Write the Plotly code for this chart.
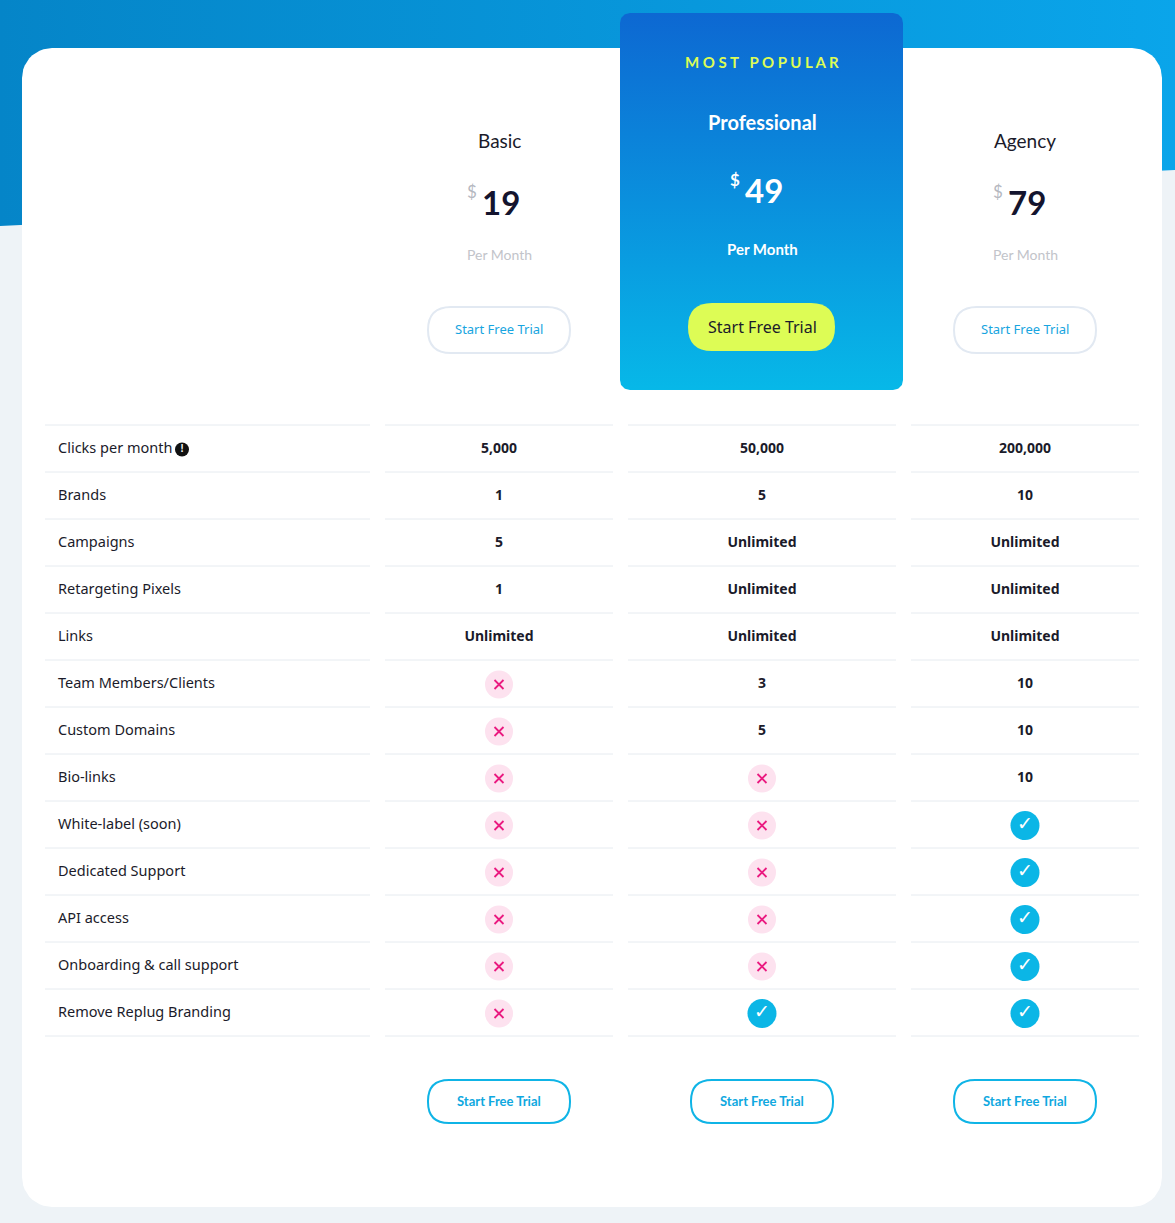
import numpy as np
import plotly.graph_objects as go

plans = ["Basic", "Professional", "Agency"]
prices = ["19", "49", "79"]
features = ["Clicks per month", "Brands", "Campaigns", "Retargeting Pixels", "Links",
            "Team Members/Clients", "Custom Domains", "Bio-links", "White-label (soon)",
            "Dedicated Support", "API access", "Onboarding & call support", "Remove Replug Branding"]
# "no" = cross, "yes" = check
basic = ["5,000", "1", "5", "1", "Unlimited", "no", "no", "no", "no", "no", "no", "no", "no"]
professional = ["50,000", "5", "Unlimited", "Unlimited", "Unlimited", "3", "5", "no", "no", "no", "no", "no", "yes"]
agency = ["200,000", "10", "Unlimited", "Unlimited", "Unlimited", "10", "10", "10", "yes", "yes", "yes", "yes", "yes"]
plan_values = [basic, professional, agency]

W, H = 1175, 1223
FONT = "Lato"
FONT2 = "Noto Sans"
fig = go.Figure()
shapes = []
ann = []

def rrect_pts(x0, y0, x1, y1, r, n=12):
    xs, ys = [], []
    for cx, cy, a0 in [(x1 - r, y0 + r, -90), (x1 - r, y1 - r, 0), (x0 + r, y1 - r, 90), (x0 + r, y0 + r, 180)]:
        for a in np.linspace(a0, a0 + 90, n):
            xs.append(cx + r * np.cos(np.radians(a)))
            ys.append(cy + r * np.sin(np.radians(a)))
    xs.append(xs[0]); ys.append(ys[0])
    return xs, ys

def rpath(x0, y0, x1, y1, r):
    return (f"M{x0+r},{y0} L{x1-r},{y0} Q{x1},{y0} {x1},{y0+r} L{x1},{y1-r} Q{x1},{y1} {x1-r},{y1} "
            f"L{x0+r},{y1} Q{x0},{y1} {x0},{y1-r} L{x0},{y0+r} Q{x0},{y0} {x0+r},{y0} Z")

def deco(**kw):
    fig.add_trace(go.Scatter(mode="lines", line_width=0, fill="toself", hoverinfo="skip", showlegend=False, **kw))

# background
shapes.append(dict(type="rect", x0=0, y0=0, x1=W, y1=H, fillcolor="#eef3f7", line_width=0, layer="below"))
deco(x=[0, W, W, 0, 0], y=[0, 0, 170, 226, 0],
     fillgradient=dict(type="horizontal", colorscale=[[0, "#0585c8"], [1, "#0aa5ea"]]))
wx, wy = rrect_pts(22, 48, 1162, 1207, 30)
deco(x=wx, y=wy, fillcolor="white")

# pro card
px, py = rrect_pts(620, 13, 903, 390, 10)
deco(x=px, y=py, fillgradient=dict(type="vertical", colorscale=[[0, "#07b8e8"], [1, "#0d68d2"]]))

cols = [499, 762, 1025]
segs = [(45, 370), (385, 613), (628, 896), (911, 1139)]
top = 425
rh = 47
for i in range(len(features) + 1):
    y = top + i * rh
    for a, b in segs:
        shapes.append(dict(type="line", x0=a, x1=b, y0=y, y1=y, line=dict(color="#e6ebf0", width=1), layer="above"))

# headers
for k, (p, pr, cx) in enumerate(zip(plans, prices, cols)):
    pro = k == 1
    ty = 122 if pro else 140
    ann.append(dict(x=cx, y=ty, text=f"<b>{p}</b>" if pro else p,
                    font=dict(size=20 if pro else 19, color="white" if pro else "#1b1b2a", family=FONT)))
    py_ = 190 if pro else 202
    ann.append(dict(x=cx + 2, y=py_, text=f"<b>{pr}</b>",
                    font=dict(size=33, color="white" if pro else "#14142e", family=FONT)))
    ann.append(dict(x=cx - 27, y=py_ - 11, text="<b>$</b>" if pro else "$",
                    font=dict(size=17, color="white" if pro else "#b5b8bf", family=FONT)))
    ann.append(dict(x=cx, y=249 if pro else 254, text="<b>Per Month</b>" if pro else "Per Month",
                    font=dict(size=15 if pro else 14, color="white" if pro else "#c2c4ca", family=FONT)))
    if pro:
        shapes.append(dict(type="path", path=rpath(688, 303, 835, 351, 24), fillcolor="#ddfc55", line_width=0, layer="above"))
        ann.append(dict(x=cx, y=327, text="Start Free Trial", font=dict(size=16, color="#1b1b2a", family=FONT2)))
    else:
        shapes.append(dict(type="path", path=rpath(cx - 71, 307, cx + 71, 353, 23), fillcolor="white",
                           line=dict(color="#e2e9f2", width=2), layer="above"))
        ann.append(dict(x=cx, y=329, text="Start Free Trial", font=dict(size=13, color="#18a5e0", family=FONT2)))
    shapes.append(dict(type="path", path=rpath(cx - 71, 1080, cx + 71, 1123, 21), fillcolor="white",
                       line=dict(color="#0fb4e6", width=2), layer="above"))
    ann.append(dict(x=cx, y=1101, text="<b>Start Free Trial</b>", font=dict(size=13, color="#0fa8e0", family=FONT)))

ann.append(dict(x=762, y=62, text="<b>M O S T   P O P U L A R</b>", font=dict(size=15, color="#ddfc55", family=FONT)))

# feature labels
ys = [top + rh / 2 + i * rh for i in range(len(features))]
fig.add_trace(go.Scatter(x=[58] * len(features), y=[y + 1 for y in ys], mode="text", text=features,
                         textposition="middle right",
                         textfont=dict(size=14.5, color="#1b1b2a", family=FONT2), hoverinfo="skip", showlegend=False))
fig.add_trace(go.Scatter(x=[182], y=[ys[0] + 1], mode="markers+text", marker=dict(size=14, color="#111"),
                         text=["<b>!</b>"], textfont=dict(size=11, color="white", family=FONT),
                         hoverinfo="skip", showlegend=False))

for cx, vals in zip(cols, plan_values):
    tx = [(cx, y, v) for y, v in zip(ys, vals) if v not in ("yes", "no")]
    nx = [y for y, v in zip(ys, vals) if v == "no"]
    yx = [y for y, v in zip(ys, vals) if v == "yes"]
    fig.add_trace(go.Scatter(x=[t[0] for t in tx], y=[t[1] + 1 for t in tx], mode="text",
                             text=[f"<b>{t[2]}</b>" for t in tx], textfont=dict(size=14, color="#1b1b2a", family=FONT2),
                             hoverinfo="skip", showlegend=False))
    fig.add_trace(go.Scatter(x=[cx] * len(nx), y=[y + 1 for y in nx], mode="markers", marker=dict(size=28, color="#fde2ef"),
                             hoverinfo="skip", showlegend=False))
    fig.add_trace(go.Scatter(x=[cx] * len(nx), y=[y + 1 for y in nx], mode="markers",
                             marker=dict(size=9, symbol="x-thin", line=dict(color="#ea1a80", width=1.8)),
                             hoverinfo="skip", showlegend=False))
    fig.add_trace(go.Scatter(x=[cx] * len(yx), y=[y + 1 for y in yx], mode="markers+text", marker=dict(size=29, color="#0bb6e6"),
                             text=["✓"] * len(yx), textfont=dict(size=19, color="white", family="DejaVu Sans"),
                             hoverinfo="skip", showlegend=False))

for a in ann:
    a.update(xref="x", yref="y", showarrow=False)

fig.update_layout(width=W, height=H, margin=dict(l=0, r=0, t=0, b=0), paper_bgcolor="#eef3f7",
                  plot_bgcolor="rgba(0,0,0,0)", shapes=shapes, annotations=ann,
                  xaxis=dict(range=[0, W], visible=False, fixedrange=True),
                  yaxis=dict(range=[H, 0], visible=False, fixedrange=True))
fig.write_html("out.html", config={"displayModeBar": False},
               post_script="document.body.style.margin='0';document.body.style.overflow='hidden';")
